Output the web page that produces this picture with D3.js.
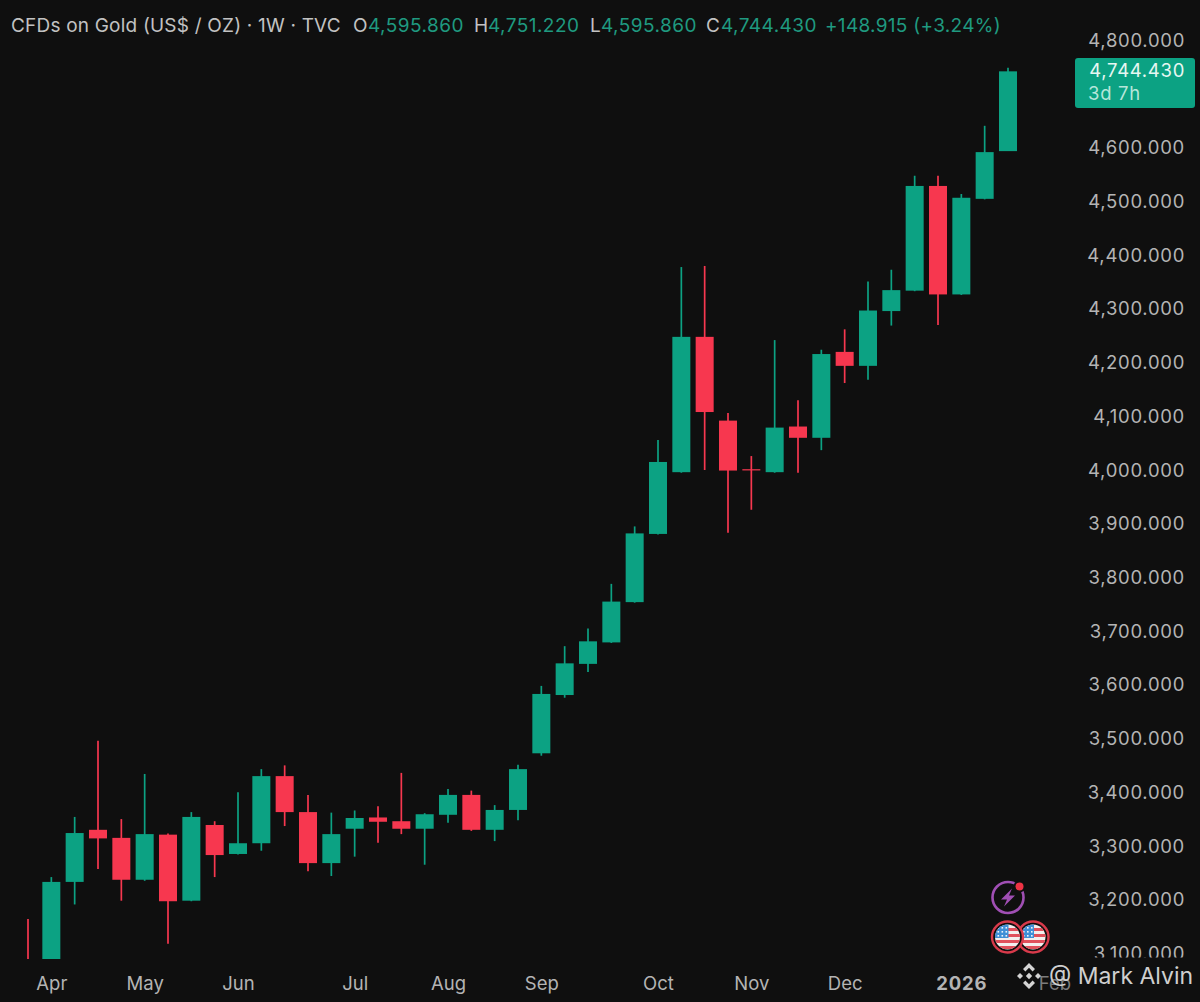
<!DOCTYPE html>
<html>
<head>
<meta charset="utf-8">
<script src="https://cdn.jsdelivr.net/npm/d3@7"></script>
<style>
  html, body { margin: 0; padding: 0; background: #0f0f0f; }
  svg { display: block; }
  text { font-family: Inter, "Noto Sans", sans-serif; }
</style>
</head>
<body>
<svg id="chart" width="1200" height="1002"></svg>
<script>
// weekly candles. first two run below the visible pane
const opens  = [3085, 3060, 3235, 3332, 3317, 3239, 3323, 3200, 3341, 3287, 3307, 3432, 3365, 3270, 3334, 3355, 3348, 3334, 3360, 3397, 3332, 3369, 3474.5, 3583, 3641, 3681, 3756, 3883, 3998, 4250, 4094, 4003.5, 3998, 4083, 4062, 4222, 4196, 4298, 4336, 4531, 4329, 4507, 4595.86];
const highs  = [3166, 3244, 3356, 3498, 3352, 3436, 3325, 3365, 3348, 3402, 3445, 3452, 3397, 3364, 3368, 3376, 3438, 3363, 3408, 3405, 3378, 3453, 3600, 3674, 3707, 3790, 3897, 4058, 4380, 4382, 4108, 4028, 4244, 4132, 4226, 4264, 4353, 4375, 4550, 4550, 4516, 4643, 4751.22];
const lows   = [3040, 3050, 3193, 3259, 3200, 3237, 3120, 3199, 3244, 3286, 3293, 3339, 3255, 3246, 3282, 3308, 3324, 3267, 3345, 3330, 3311, 3350, 3470, 3578, 3626, 3680, 3755, 3882, 3997, 4002, 3885, 3928, 3997, 3997, 4039, 4164, 4170, 4271, 4335, 4272, 4328, 4506, 4595.86];
const closes = [3060, 3235, 3326, 3316, 3239, 3324, 3199, 3356, 3285, 3307, 3432, 3365, 3270, 3324, 3354, 3347, 3334, 3361, 3397, 3332, 3369, 3445, 3585, 3642, 3683, 3757, 3884, 4017, 4250, 4110, 4001, 4002, 4081, 4062, 4218, 4196, 4299, 4337, 4531, 4329, 4509, 4594, 4744.43];

const priceTicks = [3100, 3200, 3300, 3400, 3500, 3600, 3700, 3800, 3900, 4000, 4100, 4200, 4300, 4400, 4500, 4600, 4800];
const timeTickIndex = [1, 5, 9, 14, 18, 22, 27, 31, 35, 40];
const timeTickLabels = ["Apr", "May", "Jun", "Jul", "Aug", "Sep", "Oct", "Nov", "Dec", "2026"];

const headerName = "CFDs on Gold (US$ / OZ) · 1W · TVC";
const ohlcKeys = ["O", "H", "L", "C"];
const ohlcValues = ["4,595.860", "4,751.220", "4,595.860", "4,744.430"];
const changeText = "+148.915 (+3.24%)";
const lastPriceLabel = "4,744.430";
const countdownLabel = "3d 7h";

const UP = "#0ca283";
const DOWN = "#f7374f";
const GREY = "#b4b4b4";

const svg = d3.select("#chart");
const width = 1200, height = 1002;
const paneBottom = 959;

svg.append("rect").attr("width", width).attr("height", height).attr("fill", "#0f0f0f");

const defs = svg.append("defs");
defs.append("clipPath").attr("id", "pane")
  .append("rect").attr("width", width).attr("height", paneBottom);
defs.append("clipPath").attr("id", "scalePane")
  .append("rect").attr("x", -200).attr("width", 300).attr("height", paneBottom - 1.5);

const xScale = d3.scaleLinear().domain([0, 42]).range([28, 1008]);
const yScale = d3.scaleLinear().domain([3100, 4800]).range([954.4, 41.5]);

// candles
const candles = svg.append("g").attr("clip-path", "url(#pane)")
  .selectAll("g").data(opens.map((o, i) => i)).enter().append("g")
  .attr("fill", i => closes[i] >= opens[i] ? UP : DOWN)
  .attr("stroke", i => closes[i] >= opens[i] ? UP : DOWN);

candles.append("line")
  .attr("x1", i => xScale(i)).attr("x2", i => xScale(i))
  .attr("y1", i => yScale(highs[i])).attr("y2", i => yScale(lows[i]))
  .attr("stroke-width", 1.7);

candles.append("rect")
  .attr("x", i => xScale(i) - 9)
  .attr("width", 18)
  .attr("y", i => yScale(Math.max(opens[i], closes[i])))
  .attr("height", i => Math.max(1.2, Math.abs(opens[i] - closes[i]) * (yScale(3100) - yScale(3101))))
  .attr("stroke", "none");

// price axis, labels sit a bit above the candles' scale and get cut at the pane bottom
const yAxis = d3.axisRight(yScale.copy().range([953.5, 40.5]))
  .tickValues(priceTicks)
  .tickSize(0)
  .tickFormat(d3.format(",.3f"));

const yAxisG = svg.append("g")
  .attr("transform", "translate(1185,0)")
  .attr("clip-path", "url(#scalePane)")
  .call(yAxis);
yAxisG.select(".domain").remove();
yAxisG.selectAll("text")
  .attr("x", 0).attr("text-anchor", "end")
  .attr("fill", GREY)
  .style("font-family", "Inter, sans-serif")
  .style("font-size", "18.5px")
  .style("letter-spacing", "0.7px");

// time axis
const xAxis = d3.axisBottom(xScale)
  .tickValues(timeTickIndex)
  .tickSize(0)
  .tickFormat((d, i) => timeTickLabels[i]);

const xAxisG = svg.append("g").attr("transform", "translate(0,976.5)").call(xAxis);
xAxisG.select(".domain").remove();
xAxisG.selectAll("text")
  .attr("y", 0).attr("dy", "0.71em")
  .attr("fill", GREY)
  .style("font-family", "Inter, sans-serif")
  .style("font-size", "18.5px")
  .style("letter-spacing", d => d === 40 ? "0.8px" : "0")
  .style("font-weight", d => d === 40 ? 700 : 400);

// header line
const keyX = [353, 474, 590, 706];
const valueX = [368, 488, 601, 721];
const header = svg.append("text").attr("y", 32)
  .style("font-size", "19px").attr("fill", "#c2c2c2");
header.append("tspan").attr("x", 11).style("letter-spacing", "0.2px").text(headerName);
ohlcKeys.forEach((k, i) => {
  header.append("tspan").attr("x", keyX[i]).text(k);
  header.append("tspan").attr("x", valueX[i]).attr("fill", "#1f9a80")
    .style("letter-spacing", "0.45px").text(ohlcValues[i]);
});
header.append("tspan").attr("x", 825).attr("fill", "#1f9a80")
  .style("letter-spacing", "0.3px").text(changeText);

// last price tag
const tag = svg.append("g");
tag.append("rect").attr("x", 1075).attr("y", 58).attr("width", 120).attr("height", 50)
  .attr("rx", 3).attr("fill", UP);
tag.append("text").attr("x", 1185).attr("y", 77).attr("text-anchor", "end")
  .attr("fill", "#e6f7f2").style("font-size", "18.5px").style("letter-spacing", "0.7px")
  .text(lastPriceLabel);
tag.append("text").attr("x", 1088).attr("y", 100)
  .attr("fill", "#b6e6da").style("font-size", "18.5px").style("letter-spacing", "0.7px")
  .text(countdownLabel);

// lightning badge
const badge = svg.append("g").attr("transform", "translate(1008,897.5)");
badge.append("circle").attr("r", 15.5).attr("fill", "none")
  .attr("stroke", "#a04fb4").attr("stroke-width", 2.6);
badge.append("circle").attr("cx", 11.5).attr("cy", -11).attr("r", 6).attr("fill", "#0f0f0f");
badge.append("circle").attr("cx", 11.5).attr("cy", -11).attr("r", 4).attr("fill", "#ee3344");
badge.append("path").attr("d", "M4,-9 L-7,2 L-1,2 L-4,9 L7,-2 L1,-2 Z").attr("fill", "#a04fb4");

// US flag event markers, right one goes under the left one
function flag(cx, id) {
  const g = svg.append("g").attr("transform", `translate(${cx},937)`);
  defs.append("clipPath").attr("id", id).append("circle").attr("r", 12.5);
  g.append("circle").attr("r", 15.5).attr("fill", "#0f0f0f").attr("stroke", "#d93a4b").attr("stroke-width", 2.4);
  const f = g.append("g").attr("clip-path", `url(#${id})`);
  f.append("rect").attr("x", -13).attr("y", -13).attr("width", 26).attr("height", 26).attr("fill", "#f3eeee");
  d3.range(4).forEach(k => {
    f.append("rect").attr("x", -13).attr("y", -9 + k * 6).attr("width", 26).attr("height", 3).attr("fill", "#e0505c");
  });
  f.append("rect").attr("x", -13).attr("y", -13).attr("width", 14).attr("height", 14).attr("fill", "#3f8fd6");
  d3.range(3).forEach(r => d3.range(3).forEach(c => {
    f.append("rect").attr("x", -10 + c * 4).attr("y", -10 + r * 4).attr("width", 1.6).attr("height", 1.6).attr("fill", "#eef4fb");
  }));
}
flag(1033, "flagB");
flag(1007.5, "flagA");

// Feb label sits under the watermark
svg.append("text").attr("x", 1055).attr("y", 990).attr("text-anchor", "middle")
  .attr("fill", "#7d7d7d").style("font-size", "18.5px").text("Feb");

// watermark
const logo = svg.append("g").attr("transform", "translate(1029,976)").attr("fill", "#d4d4d4");
logo.append("path").attr("d", "M0,-13 L6,-7 L3.6,-4.6 L0,-8.2 L-3.6,-4.6 L-6,-7 Z");
logo.append("path").attr("d", "M0,13 L6,7 L3.6,4.6 L0,8.2 L-3.6,4.6 L-6,7 Z");
logo.append("path").attr("d", "M0,-3.2 L3.2,0 L0,3.2 L-3.2,0 Z");
logo.append("path").attr("d", "M-9,-3 L-6,0 L-9,3 L-12,0 Z");
logo.append("path").attr("d", "M9,-3 L12,0 L9,3 L6,0 Z");
svg.append("text").attr("x", 1049).attr("y", 984)
  .attr("fill", "#cfcfcf").style("font-size", "23px").text("@ Mark Alvin");
</script>
</body>
</html>
